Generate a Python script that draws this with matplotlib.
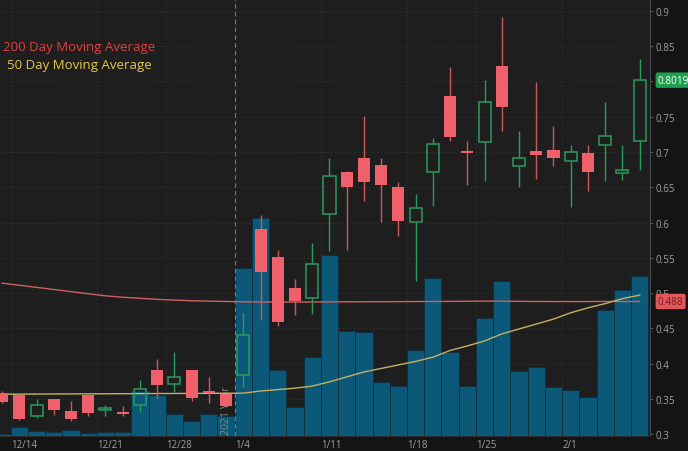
import numpy as np
import matplotlib
matplotlib.use("Agg")
import matplotlib.pyplot as plt

# daily candles, 12/11 .. 2/5 (trading days only)
days = ['12/11', '12/14', '12/15', '12/16', '12/17', '12/18', '12/21', '12/22', '12/23', '12/24',
        '12/28', '12/29', '12/30', '12/31', '1/4', '1/5', '1/6', '1/7', '1/8', '1/11',
        '1/12', '1/13', '1/14', '1/15', '1/19', '1/20', '1/21', '1/22', '1/25', '1/26',
        '1/27', '1/28', '1/29', '2/1', '2/2', '2/3', '2/4', '2/5']
opens = [0.358, 0.355, 0.3255, 0.3496, 0.3326, 0.3553, 0.334, 0.3312, 0.341, 0.3908,
         0.371, 0.3908, 0.361, 0.3567, 0.3837, 0.5908, 0.551, 0.507, 0.4929, 0.612,
         0.6716, 0.6915, 0.6816, 0.6504, 0.6007, 0.6716, 0.7794, 0.7014, 0.7142, 0.822,
         0.6801, 0.7014, 0.7028, 0.6872, 0.6986, 0.71, 0.6702, 0.7156]
closes = [0.345, 0.321, 0.341, 0.334, 0.3213, 0.3298, 0.335, 0.328, 0.3638, 0.3695,
          0.381, 0.351, 0.358, 0.3397, 0.4404, 0.5298, 0.4589, 0.4887, 0.5411, 0.666,
          0.6504, 0.6574, 0.6532, 0.6021, 0.6206, 0.7113, 0.7213, 0.6986, 0.7709, 0.7638,
          0.6915, 0.6957, 0.6915, 0.70, 0.6716, 0.7227, 0.6745, 0.8019]
highs = [0.361, 0.356, 0.3496, 0.35, 0.347, 0.356, 0.341, 0.34, 0.3766, 0.4064,
         0.4163, 0.391, 0.381, 0.357, 0.4716, 0.6106, 0.561, 0.5199, 0.5709, 0.6915,
         0.673, 0.751, 0.6915, 0.6574, 0.6404, 0.7199, 0.8206, 0.7156, 0.8021, 0.8915,
         0.7298, 0.7993, 0.7369, 0.71, 0.71, 0.7709, 0.71, 0.8319]
lows = [0.344, 0.320, 0.3227, 0.327, 0.318, 0.3255, 0.3255, 0.3255, 0.331, 0.351,
        0.3596, 0.347, 0.344, 0.338, 0.3667, 0.4617, 0.4532, 0.4688, 0.4702, 0.5596,
        0.561, 0.6305, 0.6007, 0.5809, 0.517, 0.6234, 0.7156, 0.6532, 0.6589, 0.7298,
        0.6504, 0.6617, 0.6801, 0.622, 0.6447, 0.6589, 0.6603, 0.6745]
volume = [0.2, 0.9, 0.5, 0.4, 0.6, 0.3, 0.4, 0.4, 4.5, 4.1,
          2.2, 1.5, 2.2, 2.0, 16.8, 21.8, 6.6, 2.9, 7.9, 18.1,
          10.5, 10.4, 5.4, 5.0, 8.6, 15.8, 8.4, 5.0, 11.8, 15.5,
          6.5, 6.9, 4.9, 4.6, 3.9, 12.6, 14.6, 16.0]
ma200 = [0.514, 0.511, 0.508, 0.505, 0.502, 0.499, 0.496, 0.494, 0.4925, 0.491,
         0.490, 0.489, 0.4885, 0.488, 0.4875, 0.4873, 0.4872, 0.4872, 0.4873, 0.4874,
         0.4875, 0.4876, 0.4877, 0.4878, 0.4879, 0.488, 0.4881, 0.4883, 0.4885, 0.4884,
         0.4882, 0.488, 0.4879, 0.4879, 0.4879, 0.488, 0.488, 0.488]
ma50 = [0.3565, 0.3566, 0.3567, 0.3568, 0.3569, 0.357, 0.3571, 0.3572, 0.3573, 0.3574,
        0.3575, 0.3576, 0.3577, 0.3578, 0.358, 0.361, 0.363, 0.365, 0.368, 0.374,
        0.381, 0.388, 0.393, 0.398, 0.403, 0.409, 0.4185, 0.425, 0.432, 0.442,
        0.449, 0.456, 0.463, 0.472, 0.479, 0.485, 0.492, 0.497]
week_labels = ['12/14', '12/21', '12/28', '1/4', '1/11', '1/18', '1/25', '2/1']
week_start = [1, 6, 10, 14, 19, 24, 28, 33]
price_ticks = [0.3, 0.35, 0.4, 0.45, 0.5, 0.55, 0.6, 0.65, 0.7, 0.75, 0.8, 0.85, 0.9]

bg = '#1e1e1e'
red = '#f0606a'
green = '#2a9a5e'
tick_col = '#a0a0a0'
plt.rcParams['font.family'] = ['Open Sans', 'DejaVu Sans']

x = np.arange(len(days))
o = np.array(opens)
c = np.array(closes)
up = c >= o

fig = plt.figure(figsize=(6.88, 4.52), dpi=100, facecolor='#141414')
rect = [0, 15 / 452, 650 / 688, 437 / 452]

# base axes: background, grid, ticks
ax = fig.add_axes(rect)
ax.set_facecolor(bg)
ax.set_xlim(-0.12, 37.6)
ax.set_ylim(0.2972, 0.917)
ax.yaxis.tick_right()
ax.set_yticks(price_ticks)
# the 0.8 label sits under the last-price box
ax.set_yticklabels(['' if t == 0.8 else '%g' % t for t in price_ticks])
ax.set_xticks(np.array(week_start) - 0.5)
ax.set_xticklabels(week_labels, ha='left')
ax.tick_params(axis='y', colors='#555555', labelcolor=tick_col, labelsize=7, length=2, pad=2)
ax.tick_params(axis='x', colors=tick_col, labelsize=7, length=0, pad=2)
ax.grid(True, color='#3a3a3a', linestyle=(0, (1, 3)), linewidth=0.7)
for s in ['left', 'top']:
    ax.spines[s].set_visible(False)
ax.spines['right'].set_color('#4a4a4a')
ax.spines['bottom'].set_color('#2a2a2a')

# volume
axv = fig.add_axes(rect, sharex=ax)
axv.patch.set_visible(False)
axv.set_ylim(0, 43.7)
axv.bar(x, volume, width=1.0, color='#0b5878', edgecolor='#0f2f3f', linewidth=0.6)
axv.axis('off')

# price: candles and moving averages
axp = fig.add_axes(rect, sharex=ax, sharey=ax)
axp.patch.set_visible(False)
axp.axis('off')

axp.axvline(13.5, color='#777777', linestyle=(0, (4, 3)), linewidth=0.8, zorder=1)
axp.text(13.35, 0.3, '2021 Year', rotation=90, ha='right', va='bottom',
         color='#8a8a8a', fontsize=7.5, zorder=1)

axp.plot(x, ma200, color='#d0605f', linewidth=1, zorder=2)
axp.plot(x, ma50, color='#c8b060', linewidth=1, zorder=2)

body_w = 0.7
for i in range(len(days)):
    top = max(o[i], c[i])
    bot = min(o[i], c[i])
    h = max(top - bot, 0.0025)
    if up[i]:
        axp.vlines(x[i], top, highs[i], color=green, linewidth=1, zorder=3)
        axp.vlines(x[i], lows[i], bot, color=green, linewidth=1, zorder=3)
        axp.bar(x[i], h, bottom=bot, width=body_w, facecolor='none',
                edgecolor=green, linewidth=1.1, zorder=4)
    else:
        axp.vlines(x[i], lows[i], highs[i], color='#c85a5e', linewidth=1, zorder=3)
        axp.bar(x[i], h, bottom=bot, width=body_w, color=red, linewidth=0, zorder=4)

# last price / ma labels
trans = ax.get_yaxis_transform()
ax.text(1.012, closes[-1], '%.4f' % closes[-1], transform=trans, ha='left', va='center',
        fontsize=7.2, color='white', clip_on=False,
        bbox=dict(boxstyle='round,pad=0.22,rounding_size=0.2', fc='#1f9e4f', ec='none'))
ax.text(1.012, ma200[-1], '%.3f' % ma200[-1], transform=trans, ha='left', va='center',
        fontsize=7.2, color='#7a1a1a', clip_on=False,
        bbox=dict(boxstyle='round,pad=0.22,rounding_size=0.2', fc='#e0585c', ec='none'))

fig.text(3 / 688, 1 - 48 / 452, '200 Day Moving Average', color='#e0403e',
         fontsize=9.5, va='center', ha='left')
fig.text(7 / 688, 1 - 66 / 452, '50 Day Moving Average', color='#e6c84a',
         fontsize=9.5, va='center', ha='left')

fig.savefig('out.png', dpi=100, facecolor=fig.get_facecolor())
